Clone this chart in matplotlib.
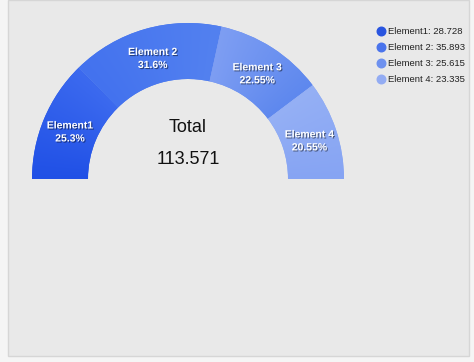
import matplotlib
matplotlib.use("Agg")
import matplotlib.pyplot as plt
import matplotlib.patheffects as pe
from matplotlib.patches import Rectangle
from matplotlib.colors import to_rgb
import numpy as np

plt.rcParams['font.family'] = ['Liberation Sans', 'DejaVu Sans']

categories = ["Element1", "Element 2", "Element 3", "Element 4"]
values = [28.728, 35.893, 25.615, 23.335]
colors = ["#2b5be8", "#4a78ef", "#6f93f1", "#90acf4"]
grad_start = ["#2050e6", "#4372ee", "#7e9ef3", "#95b0f5"]
grad_end = ["#3c6aef", "#5381f0", "#5e88ee", "#86a4f3"]
legend_colors = ["#2955e0", "#4a74ec", "#6e91ef", "#93acf3"]

total = sum(values)

fig = plt.figure(figsize=(4.74, 3.62), dpi=100)
fig.patch.set_facecolor("#f5f5f5")
ax = fig.add_axes([0, 0, 1, 1])

ax.add_patch(Rectangle((8, 6), 461, 356, facecolor="#e9e9e9", edgecolor="#d6d6d6", lw=1, zorder=0))

cx, cy = 188, 183
R, W = 156, 56
wedges, _ = ax.pie(values + [total], colors=colors + ["none"], startangle=180,
                   counterclock=False, radius=R, center=(cx, cy),
                   wedgeprops=dict(width=W, edgecolor="none"), frame=True)
wedges[-1].set_visible(False)

# gradient fill clipped to each wedge
xs = np.linspace(cx - R, cx + R, 400)
ys = np.linspace(cy, cy + R, 200)
XX, YY = np.meshgrid(xs, ys)
TH = np.degrees(np.arctan2(YY - cy, XX - cx))
ang = 180.0
for i, v in enumerate(values):
    span = v / total * 180.0
    t = np.clip((ang - TH) / span, 0, 1)[..., None]
    c0 = np.array(to_rgb(grad_start[i]))
    c1 = np.array(to_rgb(grad_end[i]))
    img = c0 + t * (c1 - c0)
    im = ax.imshow(img, extent=(xs[0], xs[-1], ys[0], ys[-1]), origin="lower",
                   interpolation="bilinear", zorder=2)
    im.set_clip_path(wedges[i])
    ang -= span

shadow = [pe.withSimplePatchShadow(offset=(0.8, -0.8), shadow_rgbFace="black", alpha=0.45)]
ang = 180.0
for name, v in zip(categories, values):
    span = v / total * 180.0
    mid = np.deg2rad(ang - span / 2)
    r = R - W / 2
    x = cx + r * np.cos(mid)
    y = cy + r * np.sin(mid) - 2.5
    ax.text(x, y + 6.5, name, color="white", fontsize=7.5, fontweight="bold",
            ha="center", va="center", path_effects=shadow, zorder=5)
    ax.text(x, y - 6.5, f"{round(v / total * 100, 2):g}%", color="white", fontsize=7.5,
            fontweight="bold", ha="center", va="center", path_effects=shadow, zorder=5)
    ang -= span

ax.text(cx, 362 - 127, "Total", fontsize=13, ha="center", va="center", color="#111111")
ax.text(cx, 362 - 160, f"{total:.3f}", fontsize=13, ha="center", va="center", color="#111111")

for i, (name, v) in enumerate(zip(categories, values)):
    ly = 362 - (31 + 16 * i)
    ax.scatter([381], [ly], s=38, color=legend_colors[i], zorder=5)
    ax.text(388, ly, f"{name}: {v:.3f}", fontsize=6.8, ha="left", va="center", color="#222222")

ax.set_xlim(0, 474)
ax.set_ylim(0, 362)
ax.set_aspect("auto")
ax.axis("off")

fig.savefig("out.png", dpi=100, facecolor=fig.get_facecolor())
